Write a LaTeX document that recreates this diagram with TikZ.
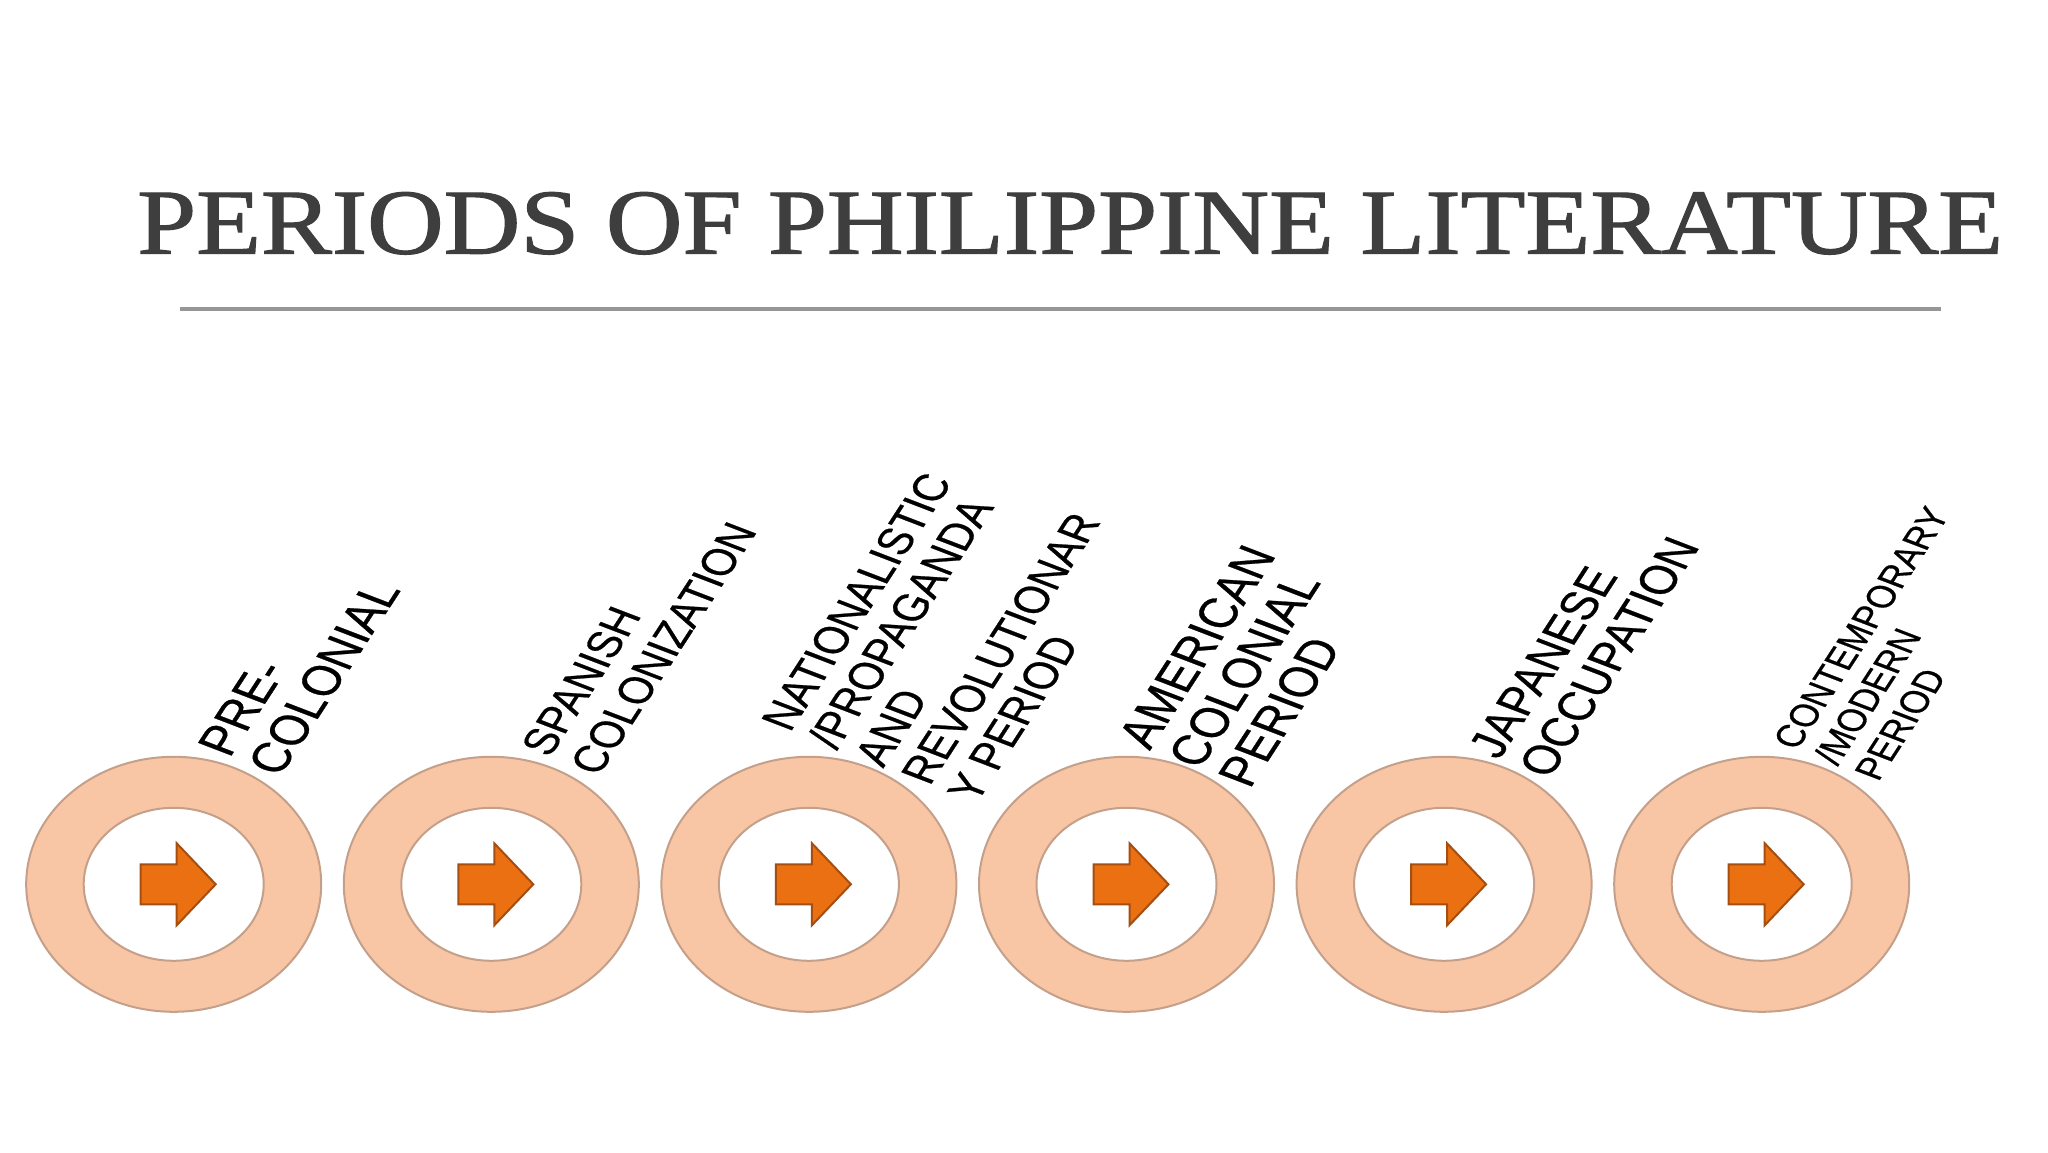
\documentclass[tikz,border=0pt]{standalone}
\usepackage{fontspec}
\setmainfont[FakeBold=0.6]{Liberation Sans}
\newfontfamily\titlefont[FakeBold=1.2]{Liberation Serif}
\usetikzlibrary{shapes.geometric}
\definecolor{ring}{RGB}{249,198,165}
\definecolor{ringline}{RGB}{196,160,138}
\definecolor{arrowfill}{RGB}{234,112,18}
\definecolor{arrowline}{RGB}{165,78,18}
\definecolor{titlegray}{RGB}{62,62,62}
\definecolor{rulegray}{RGB}{150,150,150}
\begin{document}
\begin{tikzpicture}[x=1pt,y=1pt,
  outerring/.style={ellipse, draw=ringline, fill=ring, line width=2pt, inner sep=0pt, minimum width=295pt, minimum height=255pt},
  innerring/.style={ellipse, draw=ringline, fill=white, line width=2pt, inner sep=0pt, minimum width=180pt, minimum height=153pt},
  arrowsty/.style={fill=arrowfill, draw=arrowline, line width=2pt, line join=miter},
  lbl/.style={xscale=1.3, rotate=63.5, anchor=west, align=left, inner sep=0pt, text=black},
  big/.style={font=\fontsize{41.5}{43}\selectfont},
  bigb/.style={font=\fontsize{40}{43}\selectfont},
  med/.style={font=\fontsize{37}{42}\selectfont},
  mid/.style={font=\fontsize{37.5}{40}\selectfont},
  small/.style={font=\fontsize{31}{35}\selectfont}]
\useasboundingbox (0,0) rectangle (2048,1152);
\fill[white] (0,0) rectangle (2048,1152);
\node[anchor=south west, inner sep=0pt, text=titlegray] (title) at (137,897.3)
  {\resizebox{1865pt}{61.4pt}{\titlefont PERIODS OF PHILIPPINE LITERATURE}};
\coordinate (rl) at (180,842.5);
\coordinate (rr) at (1941,842.5);
\draw[rulegray, line width=4pt] (rl) -- (rr);
\foreach \i/\x in {1/173.7, 2/491.3, 3/808.9, 4/1126.5, 5/1444.1, 6/1761.7}{
  \node[outerring] (o\i) at (\x,267.7) {};
  \node[innerring] (n\i) at (\x,267.7) {};
  \draw[arrowsty, shift={(\x,267.7)}] (-33,20) -- (3,20) -- (3,41) -- (42,0) -- (3,-41) -- (3,-20) -- (-33,-20) -- cycle;
}
\begin{scope}[shift={(238,390)}]
  \node[lbl, big] (l1) at (0,0) {PRE-\\COLONIAL};
\end{scope}
\begin{scope}[shift={(559,390)}]
  \node[lbl, med] (l2) at (0,0) {SPANISH\\COLONIZATION};
\end{scope}
\begin{scope}[shift={(868,389)}]
  \node[lbl, mid] (l3) at (0,0) {NATIONALISTIC\\/PROPAGANDA\\AND\\REVOLUTIONAR\\Y PERIOD};
\end{scope}
\begin{scope}[shift={(1183,388)}]
  \node[lbl, big] (l4) at (0,0) {AMERICAN\\COLONIAL\\PERIOD};
\end{scope}
\begin{scope}[shift={(1508,388)}]
  \node[lbl, bigb] (l5) at (0,0) {JAPANESE\\OCCUPATION};
\end{scope}
\begin{scope}[shift={(1825,390)}]
  \node[lbl, small] (l6) at (0,0) {CONTEMPORARY\\/MODERN\\PERIOD};
\end{scope}
\end{tikzpicture}
\end{document}
